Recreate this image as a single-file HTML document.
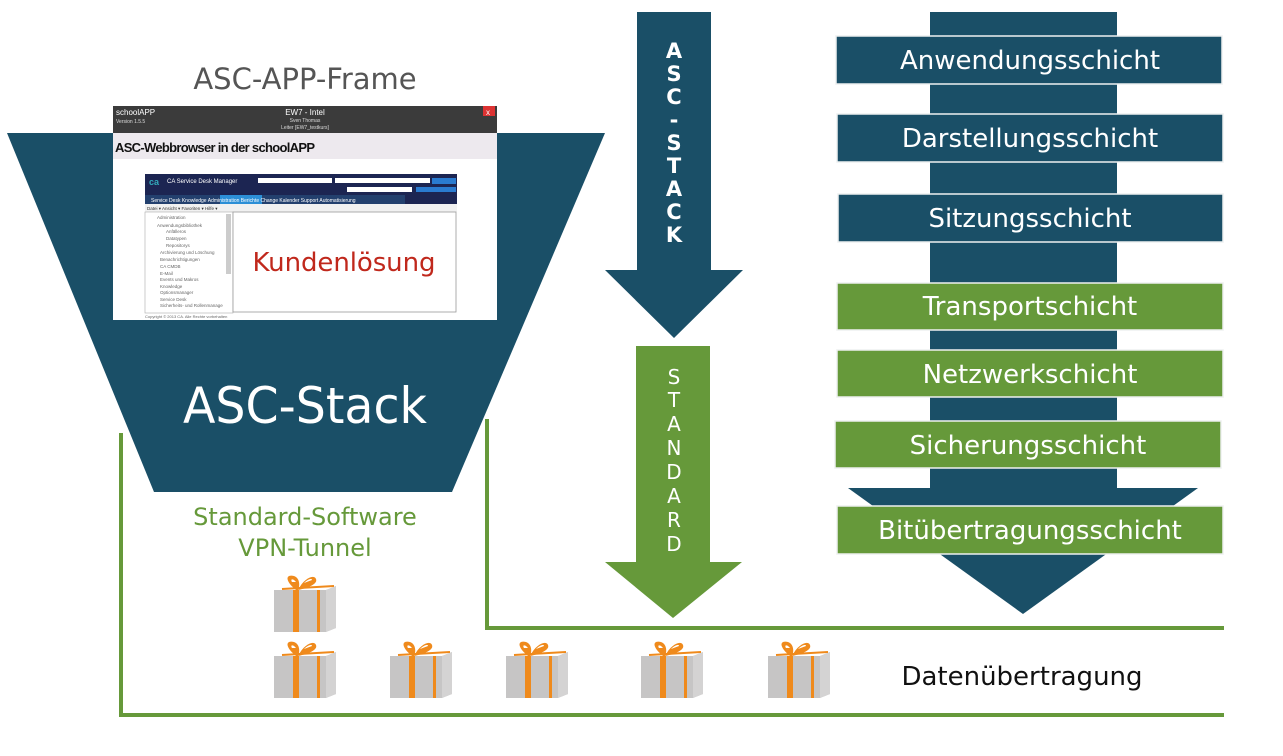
<!DOCTYPE html>
<html><head><meta charset="utf-8"><style>
html,body{margin:0;padding:0;background:#fff;}
body{width:1283px;height:756px;overflow:hidden;position:relative;font-family:"DejaVu Sans","Liberation Sans",sans-serif;}
svg{position:absolute;left:0;top:0;}
</style></head><body>
<svg width="1283" height="756" viewBox="0 0 1283 756" xmlns="http://www.w3.org/2000/svg">
<defs>
<g id="gift">
  <path d="M0 10 L52 10 L62 6 L62 48 L52 52 L0 52 Z" fill="#c6c5c5"/>
  <path d="M52 10 L62 6 L62 48 L52 52Z" fill="#d4d3d3"/>
  <rect x="19" y="10" width="6" height="42" fill="#ef8a1c"/>
  <rect x="43" y="10" width="3" height="42" fill="#ef8a1c"/>
  <path d="M8 9 L60 6" stroke="#ef8a1c" stroke-width="2"/>
  <path d="M22 10 C10 0 12 -6 20 -4 C26 -2 26 6 24 10Z" fill="#ef8a1c"/>
  <path d="M24 10 C30 -2 40 -6 42 -1 C44 4 34 8 24 10Z" fill="#ef8a1c"/>
  <path d="M18 2 C16 -1 19 -2 22 2Z" fill="#fff"/>
  <path d="M30 3 C34 -1 38 -2 38 0Z" fill="#fff"/>
</g>
</defs>

<!-- funnel -->
<polygon points="7,133 605,133 452,492 154,492" fill="#1a4f67"/>

<!-- green L lines -->
<polyline points="121,433 121,715 1224,715" fill="none" stroke="#66993a" stroke-width="4"/>
<polyline points="487,419 487,628 1224,628" fill="none" stroke="#66993a" stroke-width="4"/>

<!-- screenshot -->
<rect x="113" y="106" width="384" height="27" fill="#3b3b3b"/>
<text x="116" y="115" font-size="8" fill="#fff" font-family="Liberation Sans">schoolAPP</text>
<text x="116" y="123" font-size="5" fill="#ddd" font-family="Liberation Sans">Version 1.5.5</text>
<text x="305" y="115" font-size="8" fill="#fff" text-anchor="middle" font-family="Liberation Sans">EW7 - Intel</text>
<text x="305" y="122" font-size="5" fill="#ddd" text-anchor="middle" font-family="Liberation Sans">Sven Thomas</text>
<text x="305" y="129" font-size="5" fill="#ddd" text-anchor="middle" font-family="Liberation Sans">Leiter [EW7_testkurs]</text>
<rect x="483" y="106" width="12" height="10" fill="#d33"/>
<text x="486" y="115" font-size="8" fill="#fff" font-family="Liberation Sans">x</text>
<rect x="113" y="133" width="384" height="26" fill="#ede9ee"/>
<text x="115" y="152" font-size="13" font-weight="bold" fill="#111" font-family="Liberation Sans" textLength="200">ASC-Webbrowser in der schoolAPP</text>
<rect x="113" y="159" width="384" height="161" fill="#fff"/>
<rect x="145" y="174" width="312" height="30" fill="#1c2552"/>
<text x="149" y="185" font-size="9" font-weight="bold" fill="#3ab" font-family="Liberation Sans">ca</text>
<text x="167" y="183" font-size="6" fill="#fff" font-family="Liberation Sans">CA Service Desk Manager</text>
<rect x="258" y="178" width="74" height="5" fill="#fff"/>
<rect x="335" y="178" width="95" height="5" fill="#fff"/>
<rect x="432" y="178" width="24" height="6" fill="#2a7bd0"/>
<rect x="347" y="187" width="65" height="5" fill="#fff"/>
<rect x="416" y="187" width="40" height="5" fill="#2a7bd0"/>
<rect x="145" y="195" width="260" height="9" fill="#23406e"/>
<rect x="220" y="195" width="42" height="9" fill="#2c8fd6"/>
<text x="151" y="202" font-size="5" fill="#fff" font-family="Liberation Sans">Service Desk   Knowledge   Administration   Berichte   Change Kalender   Support Automatisierung</text>
<rect x="145" y="204" width="312" height="8" fill="#f1f1f1"/>
<text x="147" y="210" font-size="4.5" fill="#333" font-family="Liberation Sans">Datei ▾ Ansicht ▾ Favoriten ▾ Hilfe ▾</text>
<rect x="145" y="212" width="88" height="101" fill="#fff" stroke="#aaa" stroke-width="0.6"/>
<rect x="226" y="214" width="5" height="60" fill="#ccc"/>
<rect x="233" y="212" width="223" height="100" fill="#fff" stroke="#999" stroke-width="0.8"/>
<g font-size="4.5" fill="#666" font-family="Liberation Sans">
<text x="157" y="219">Administration</text><text x="157" y="227">Anwendungsbibliothek</text>
<text x="166" y="233">Anfälleros</text><text x="166" y="240">Datatypen</text><text x="166" y="247">Repositorys</text>
<text x="160" y="254">Archivierung und Löschung</text><text x="160" y="261">Benachrichtigungen</text>
<text x="160" y="268">CA CMDB</text><text x="160" y="275">E-Mail</text><text x="160" y="281">Events und Makros</text>
<text x="160" y="288">Knowledge</text><text x="160" y="294">Optionsmanager</text><text x="160" y="301">Service Desk</text>
<text x="160" y="307">Sicherheits- und Rollenmanage</text>
<text x="145" y="318" font-size="4">Copyright © 2013 CA. Alle Rechte vorbehalten</text>
</g>
<text x="344" y="271" font-size="26" fill="#c0281c" text-anchor="middle" font-family="DejaVu Sans" textLength="183">Kundenlösung</text>

<text x="305" y="89" font-size="29" fill="#555" text-anchor="middle">ASC-APP-Frame</text>
<text x="305" y="423" font-size="50" fill="#fff" text-anchor="middle" textLength="244" lengthAdjust="spacingAndGlyphs">ASC-Stack</text>
<text x="305" y="525" font-size="24" fill="#66993a" text-anchor="middle">Standard-Software</text>
<text x="305" y="556" font-size="24" fill="#66993a" text-anchor="middle">VPN-Tunnel</text>

<!-- middle arrows -->
<polygon points="637,12 711,12 711,270 743,270 674,338 605,270 637,270" fill="#1a4f67"/>
<g font-size="21" font-weight="bold" fill="#fff" text-anchor="middle" font-family="DejaVu Sans">
<text x="674" y="58">A</text><text x="674" y="81">S</text><text x="674" y="104">C</text><text x="674" y="127">-</text>
<text x="674" y="150">S</text><text x="674" y="173">T</text><text x="674" y="196">A</text><text x="674" y="219">C</text><text x="674" y="242">K</text>
</g>
<polygon points="636,346 710,346 710,562 742,562 673,618 605,562 636,562" fill="#66993a"/>
<g font-size="20" fill="#fff" text-anchor="middle" font-family="DejaVu Sans">
<text x="674" y="384">S</text><text x="674" y="407">T</text><text x="674" y="431">A</text><text x="674" y="455">N</text>
<text x="674" y="479">D</text><text x="674" y="503">A</text><text x="674" y="527">R</text><text x="674" y="551">D</text>
</g>

<!-- right stack -->
<rect x="930" y="12" width="187" height="478" fill="#1a4f67"/>
<polygon points="848,488 1198,488 1023,614" fill="#1a4f67"/>
<g stroke="#eef0f0" stroke-width="1.5">
<rect x="836" y="36" width="386" height="48" fill="#1a4f67"/>
<rect x="837" y="114" width="386" height="48" fill="#1a4f67"/>
<rect x="838" y="194" width="385" height="48" fill="#1a4f67"/>
<rect x="837" y="283" width="386" height="47" fill="#66993a"/>
<rect x="837" y="350" width="386" height="47" fill="#66993a"/>
<rect x="835" y="421" width="386" height="47" fill="#66993a"/>
<rect x="837" y="506" width="386" height="48" fill="#66993a"/>
</g>
<g font-size="26" fill="#fff" text-anchor="middle" font-family="DejaVu Sans">
<text x="1030" y="69">Anwendungsschicht</text>
<text x="1030" y="147">Darstellungsschicht</text>
<text x="1030" y="227">Sitzungsschicht</text>
<text x="1030" y="315">Transportschicht</text>
<text x="1030" y="383">Netzwerkschicht</text>
<text x="1028" y="454">Sicherungsschicht</text>
<text x="1030" y="539">Bitübertragungsschicht</text>
</g>

<text x="1022" y="685" font-size="26" fill="#111" text-anchor="middle">Datenübertragung</text>

<!-- gifts -->
<use href="#gift" x="274" y="580"/>
<use href="#gift" x="274" y="646"/>
<use href="#gift" x="390" y="646"/>
<use href="#gift" x="506" y="646"/>
<use href="#gift" x="641" y="646"/>
<use href="#gift" x="768" y="646"/>
</svg>
</body></html>
